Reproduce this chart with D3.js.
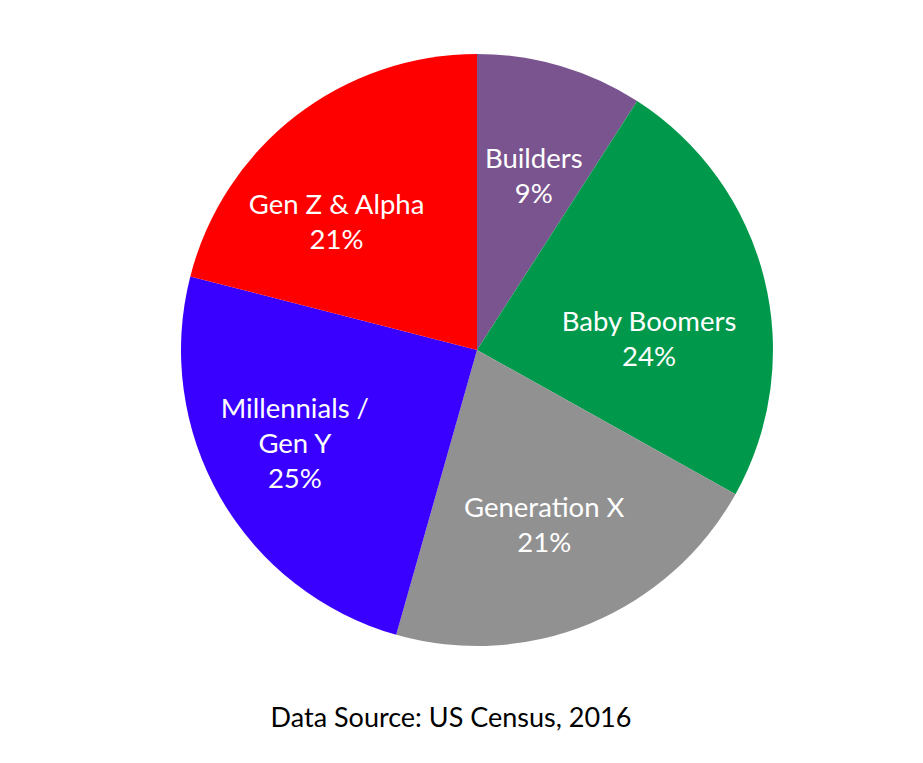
<!DOCTYPE html>
<html>
<head>
<meta charset="utf-8">
<script src="https://cdn.jsdelivr.net/npm/d3@7"></script>
<style>
  html, body { margin: 0; padding: 0; background: #fff; }
  svg { display: block; }
  .slice-label { font-family: Lato, "Open Sans", sans-serif; font-size: 27.5px; fill: #fff; }
  .caption { font-family: Lato, "Open Sans", sans-serif; font-size: 27px; fill: #000; }
</style>
</head>
<body>
<svg id="chart" width="923" height="763"></svg>
<script>
// generations, clockwise from 12 o'clock
const categories = ['Builders', 'Baby Boomers', 'Generation X', 'Millennials / Gen Y', 'Gen Z & Alpha'];
const labelLines = [['Builders'], ['Baby Boomers'], ['Generation X'], ['Millennials /', 'Gen Y'], ['Gen Z & Alpha']];
// share of population, % (labels show rounded values)
const shares = [9.1, 24.0, 21.3, 24.6, 21.0];
const colors = ['#7a548e', '#00994c', '#919191', '#3a00ff', '#ff0000'];

const width = 923, height = 763;
const cx = 477, cy = 350, radius = 296;

// Excel's label placement drifts a bit from the plain centroid
const labelNudge = [[5, 2], [-6, 33], [-3, 5], [-23, 2], [-28, 17]];

const svg = d3.select('#chart');
const g = svg.append('g').attr('transform', `translate(${cx},${cy})`);

const pie = d3.pie().sort(null).value(d => d);
const arcs = pie(shares);

const arc = d3.arc().innerRadius(0).outerRadius(radius);
const labelArc = d3.arc().innerRadius(radius * 0.62).outerRadius(radius * 0.62);

const color = d3.scaleOrdinal().domain(categories).range(colors);

g.selectAll('path.slice')
  .data(arcs)
  .enter()
  .append('path')
  .attr('class', 'slice')
  .attr('d', arc)
  .attr('fill', (d, i) => color(categories[i]));

const lineH = 35;
const labels = g.selectAll('text.slice-label')
  .data(arcs)
  .enter()
  .append('text')
  .attr('class', 'slice-label')
  .attr('text-anchor', 'middle')
  .attr('transform', (d, i) => {
    const [x, y] = labelArc.centroid(d);
    return `translate(${x + labelNudge[i][0]},${y + labelNudge[i][1]})`;
  });

labels.each(function(d, i) {
  const lines = labelLines[i].concat([Math.round(shares[i]) + '%']);
  const t = d3.select(this);
  const top = -(lines.length - 1) * lineH / 2;
  lines.forEach((ln, k) => {
    t.append('tspan')
      .attr('x', 0)
      .attr('y', top + k * lineH)
      .attr('dy', '0.35em')
      .text(ln);
  });
});

svg.append('text')
  .attr('class', 'caption')
  .attr('x', 451)
  .attr('y', 718)
  .attr('dy', '0.35em')
  .attr('text-anchor', 'middle')
  .text('Data Source: US Census, 2016');
</script>
</body>
</html>
